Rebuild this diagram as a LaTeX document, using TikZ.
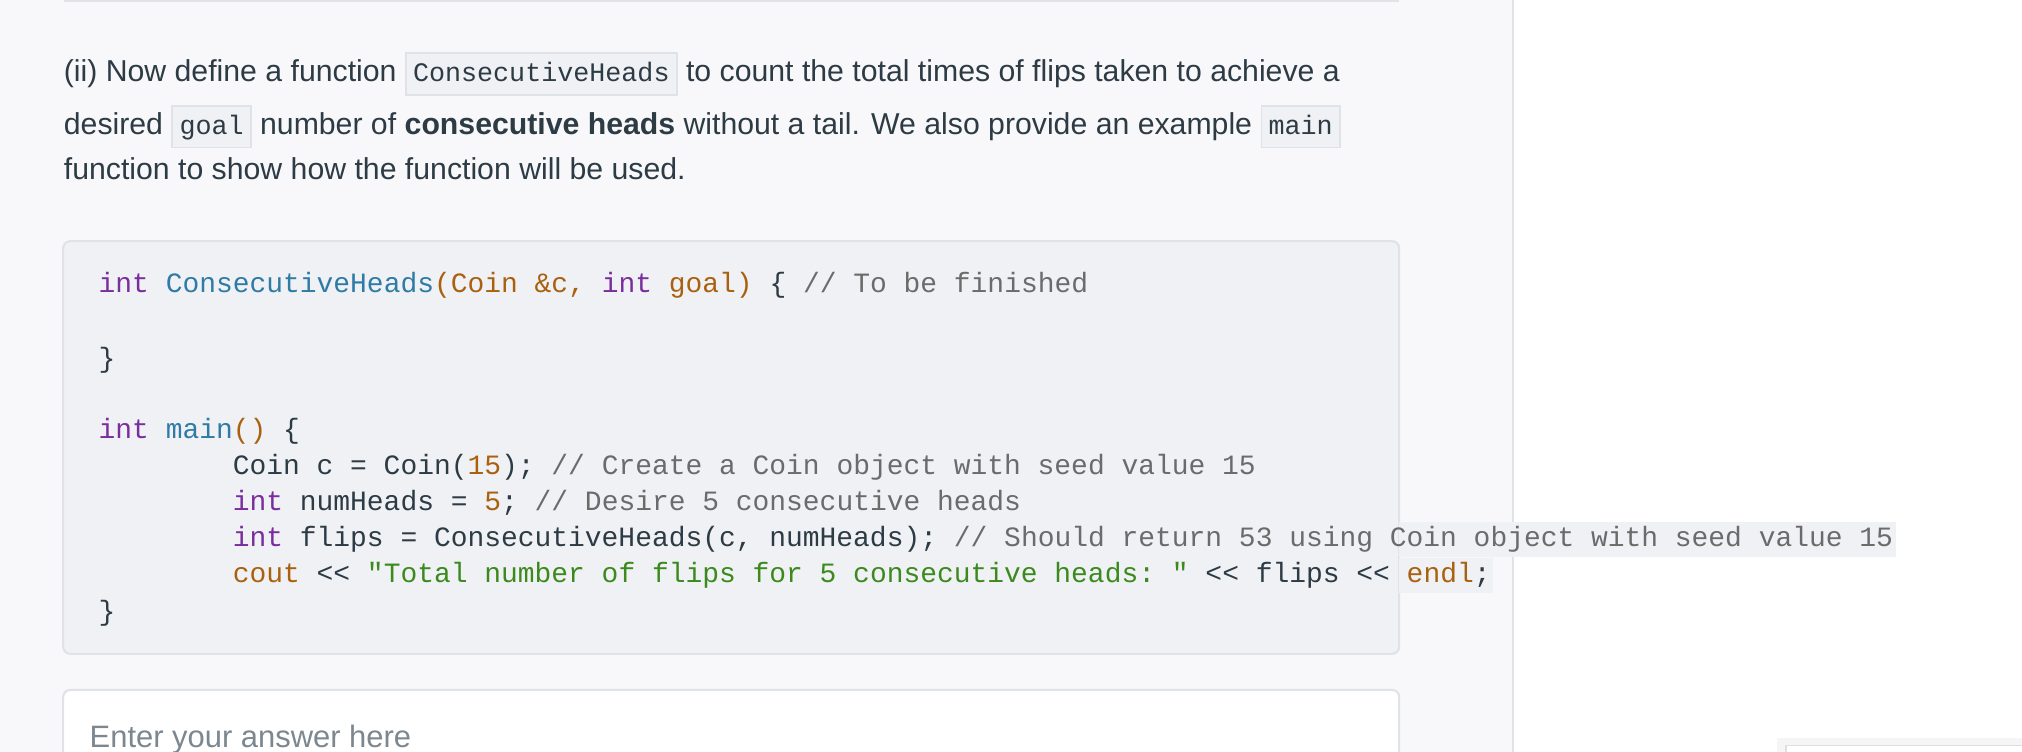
\documentclass[tikz,border=0pt]{standalone}
\usepackage{fontspec}
\setmainfont{Liberation Sans}
\setmonofont{Liberation Mono}
\definecolor{panel}{HTML}{F8F8FA}
\definecolor{codebg}{HTML}{F0F1F5}
\definecolor{bord}{HTML}{DFE2E7}
\definecolor{txt}{HTML}{2D3B45}
\definecolor{kw}{HTML}{7A2E9E}
\definecolor{fn}{HTML}{2E7BA6}
\definecolor{org}{HTML}{A9610F}
\definecolor{cm}{HTML}{6B6B6B}
\definecolor{st}{HTML}{3C8A1E}
\definecolor{ph}{HTML}{7C8790}
\newcommand\ic[1]{{\setlength\fboxsep{1.8pt}\setlength\fboxrule{0.5pt}\fcolorbox{bord}{codebg}{\vphantom{Hg}\ttfamily\fontsize{7.6}{9}\selectfont #1}}}
\newcommand\cK[1]{\textcolor{kw}{#1}}
\newcommand\cF[1]{\textcolor{fn}{#1}}
\newcommand\cO[1]{\textcolor{org}{#1}}
\newcommand\cC[1]{\textcolor{cm}{#1}}
\newcommand\cS[1]{\textcolor{st}{#1}}
\tikzset{
  para/.style={anchor=base west,inner sep=0pt,text=txt,font=\fontsize{8.6}{10}\selectfont},
  codeln/.style={anchor=base west,inner sep=0pt,text=txt,font=\ttfamily\fontsize{7.95}{9}\selectfont},
}
\begin{document}
\begin{tikzpicture}[x=0.012895cm,y=-0.012895cm]
\useasboundingbox (0,0) rectangle (1568,583);
\fill[panel] (0,0) rectangle (1173,583);
\fill[white] (1173,0) rectangle (1568,583);
\draw[bord,line width=0.6pt] (1173,0) -- (1173,583);
\draw[bord,line width=0.6pt] (50,1) -- (1085,1);
% paragraph
\node[para] (p1) at (49,63) {(ii) Now define a function \ic{ConsecutiveHeads} to count the total times of flips taken to achieve a};
\node[para] (p2) at (49,104) {desired \ic{goal} number of \textbf{consecutive heads} without a tail. We also provide an example \ic{main}};
\node[para] (p3) at (49,139) {function to show how the function will be used.};
% code box
\draw[bord,fill=codebg,rounded corners=2pt,line width=0.6pt] (49,187) rectangle (1085,507);
\fill[codebg] (1085,405) rectangle (1470,432);
\fill[codebg] (1085,433) rectangle (1158,460);
\node[codeln] (c1) at (76,227) {\cK{int} \cF{ConsecutiveHeads}\cO{(Coin \&c,} \cK{int} \cO{goal)} \{ \cC{// To be finished}};
\node[codeln] (c2) at (76,285) {\}};
\node[codeln] (c3) at (76,340) {\cK{int} \cF{main}\cO{()} \{};
\node[codeln] (c4) at (180,368) {Coin c = Coin(\cO{15}); \cC{// Create a Coin object with seed value 15}};
\node[codeln] (c5) at (180,396) {\cK{int} numHeads = \cO{5}; \cC{// Desire 5 consecutive heads}};
\node[codeln] (c6) at (180,424) {\cK{int} flips = ConsecutiveHeads(c, numHeads); \cC{// Should return 53 using Coin object with seed value 15}};
\node[codeln] (c7) at (180,452) {\cO{cout} \textless\textless{} \cS{"Total number of flips for 5 consecutive heads: "} \textless\textless{} flips \textless\textless{} \cO{endl};};
\node[codeln] (c8) at (76,481) {\}};
% answer box
\draw[bord,fill=white,rounded corners=2pt,line width=0.6pt] (49,535) rectangle (1085,600);
\node[para,text=ph,font=\fontsize{8.8}{10}\selectfont] (ans) at (69,580) {Enter your answer here};
% popup corner
\fill[gray!8] (1378,572) rectangle (1568,583);
\fill[white,draw=gray!25,line width=0.4pt] (1385,578) rectangle (1580,600);
\end{tikzpicture}
\end{document}
